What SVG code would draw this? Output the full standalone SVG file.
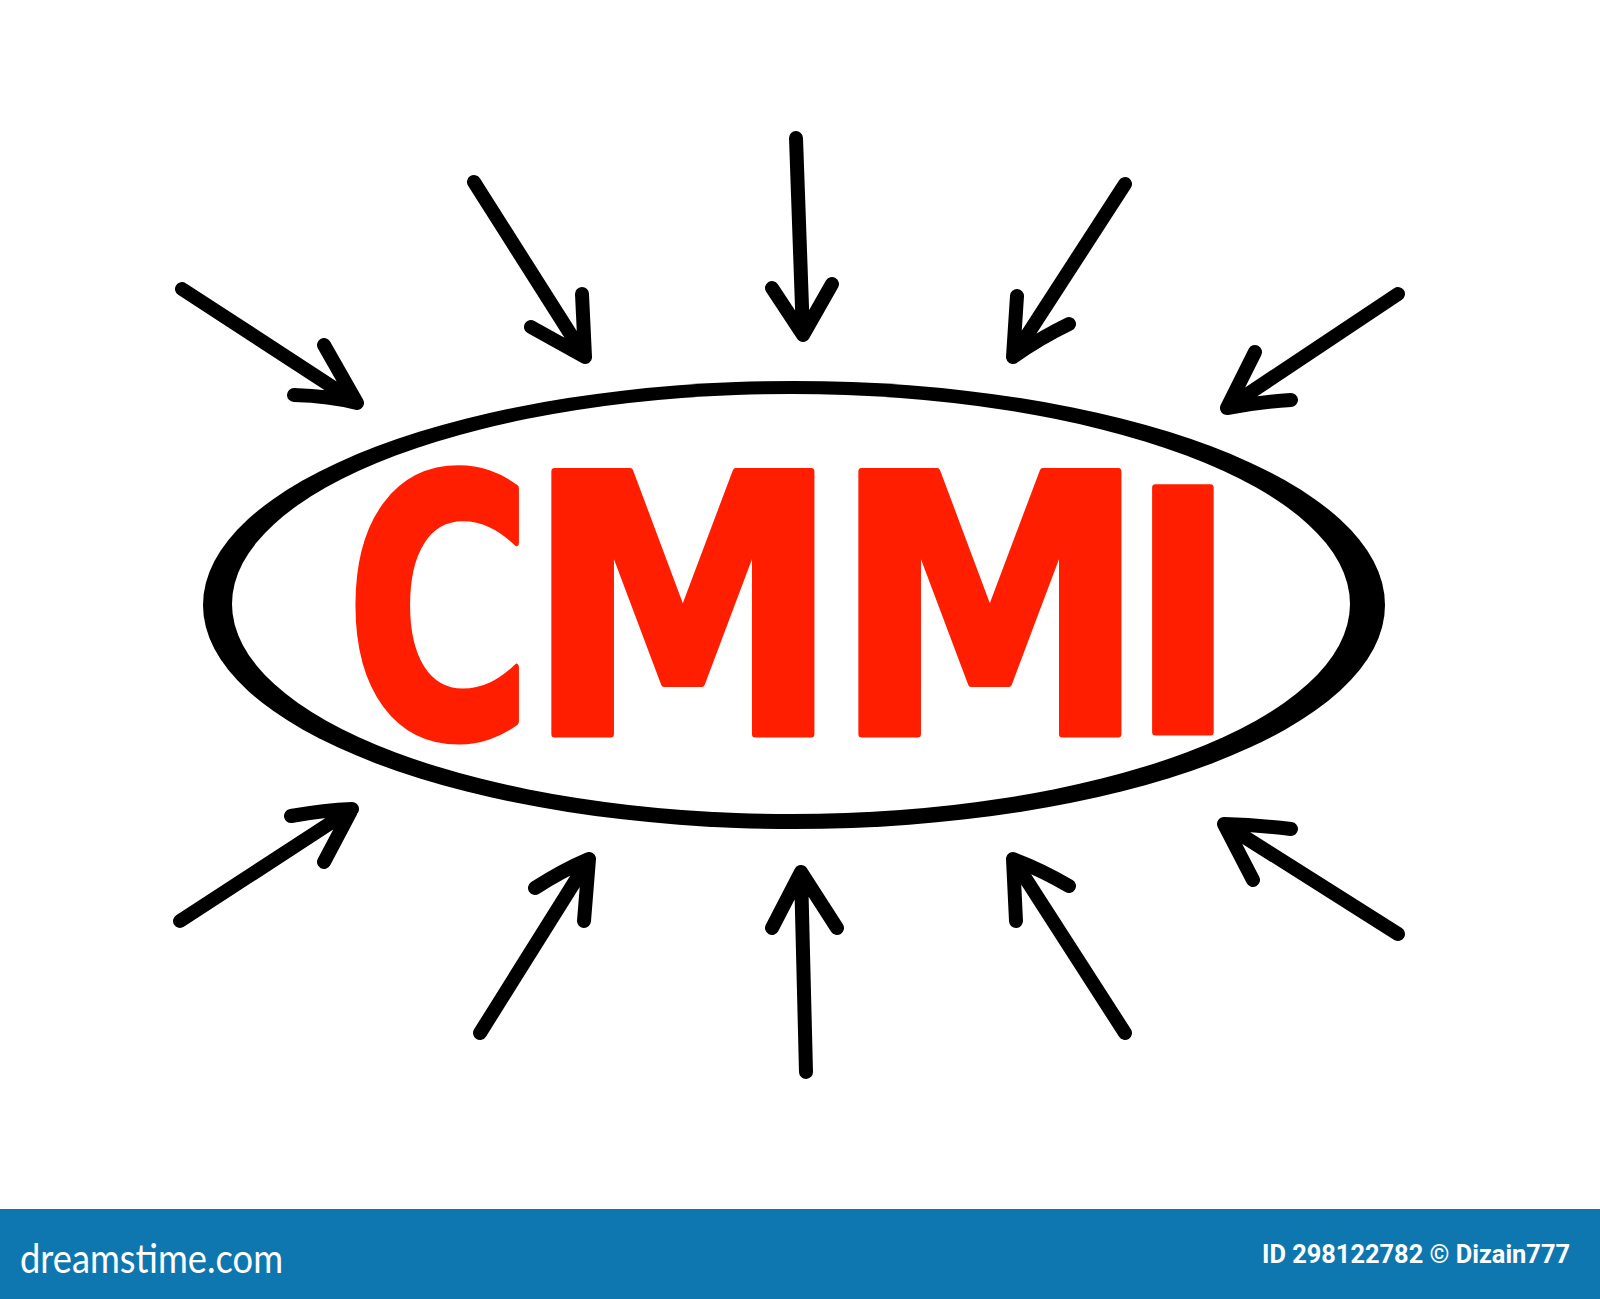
<svg xmlns="http://www.w3.org/2000/svg" width="1600" height="1299" viewBox="0 0 1600 1299">
<style>
.arr{fill:none;stroke:#000;stroke-width:14;stroke-linecap:round;stroke-linejoin:round}
.ltr{font-family:"DejaVu Sans","Liberation Sans",sans-serif;font-weight:bold;font-size:360px;fill:#ff1e00;stroke:#ff1e00;stroke-width:7;stroke-linejoin:round;text-anchor:middle}
</style>
<rect width="1600" height="1299" fill="#ffffff"/>
<g id="ellipse">
<ellipse cx="794" cy="605" rx="591" ry="224" fill="#000"/>
<ellipse cx="791" cy="604" rx="559" ry="210" fill="#fff"/>
</g>
<g id="label">
<text class="ltr" transform="translate(439,736) scale(0.71,1)">C</text>
<text class="ltr" transform="scale(0.88,1)" y="734"><tspan x="776.1">M</tspan><tspan x="1125">M</tspan><tspan x="1344.3" y="732" font-size="335">I</tspan></text>
</g>
<g id="connectors">
<path class="arr" d="M182,289 L357,403 M294,395 Q330,396 357,403 L324,345"/>
<path class="arr" d="M474,182 L585,357 M531,327 Q560,343 585,357 L582,294"/>
<path class="arr" d="M796,138 L803,335 M772,288 L803,335 L832,284"/>
<path class="arr" d="M1125,184 L1013,357 M1017,296 L1013,357 Q1040,338 1069,324"/>
<path class="arr" d="M1398,294 L1227,408 M1255,352 L1227,408 Q1260,402 1291,400"/>
<path class="arr" d="M180,921 L352,809 M291,816 Q325,810 352,809 L324,862"/>
<path class="arr" d="M480,1033 L589,859 M535,888 Q563,870 589,859 L584,921"/>
<path class="arr" d="M806,1072 L801,872 M772,928 L801,872 L837,928"/>
<path class="arr" d="M1125,1033 L1013,859 M1016,921 L1013,859 Q1042,870 1069,886"/>
<path class="arr" d="M1398,934 L1224,824 M1253,880 L1224,824 Q1258,825 1291,829"/>
</g>
<g id="footer">
<rect x="0" y="1209" width="1600" height="90" fill="#0f77b0"/>
<text x="20" y="1273" font-family="Lato, 'Open Sans', sans-serif" font-size="40" textLength="263" lengthAdjust="spacingAndGlyphs" fill="#ffffff">dreamstime.com</text>
<text x="1262" y="1263" font-family="Roboto, 'DejaVu Sans', sans-serif" font-weight="bold" font-size="25" textLength="308" lengthAdjust="spacingAndGlyphs" fill="#ffffff">ID 298122782 © Dizain777</text>
</g>
</svg>
